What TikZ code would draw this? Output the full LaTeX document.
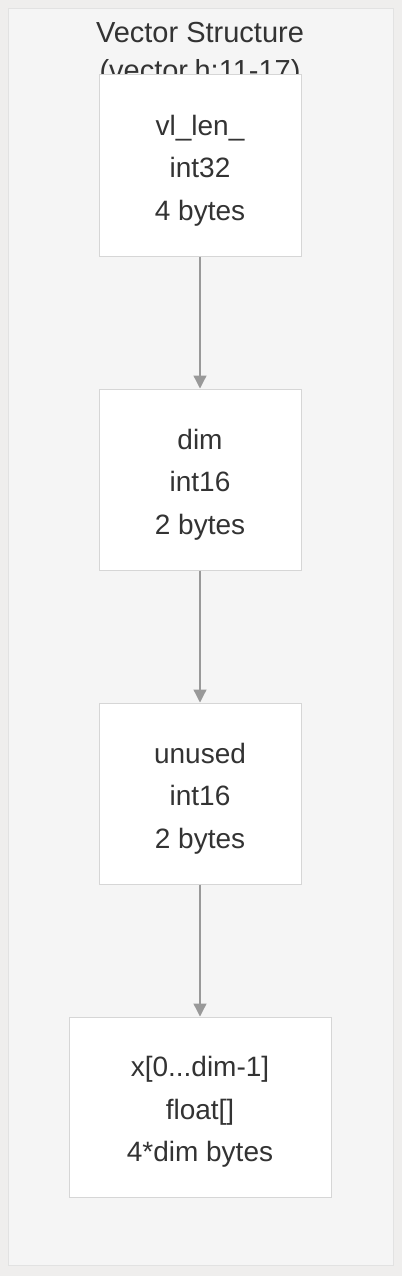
\documentclass[tikz,border=0pt]{standalone}
\usepackage{fontspec}
\setmainfont{Liberation Sans}
\usetikzlibrary{arrows.meta, positioning}
\definecolor{PageBg}{HTML}{EFEEED}
\definecolor{ClusterFill}{HTML}{F5F5F5}
\definecolor{ClusterLine}{HTML}{E2E2E2}
\definecolor{BoxLine}{HTML}{D6D6D6}
\definecolor{LinkGray}{HTML}{999999}
\definecolor{TextGray}{HTML}{333333}
\newcommand{\fieldgap}{\rule{0pt}{30pt}}

\begin{document}
\begin{tikzpicture}[x=1pt, y=-1pt,
    field/.style={draw=BoxLine, fill=white, line width=1pt,
                  minimum width=202pt, minimum height=181pt,
                  align=center, text=TextGray,
                  font=\fontsize{28}{42.5}\selectfont},
    link/.style={draw=LinkGray, line width=1.3pt,
                 -{Triangle[length=13pt, width=13pt]}}]
    % background and cluster
    \fill[PageBg] (0,0) rectangle (402,1276);
    \draw[fill=ClusterFill, draw=ClusterLine, line width=1pt] (8,9) rectangle (393,1265);
    \node[text=TextGray, align=center, font=\fontsize{29}{38}\selectfont]
      (title) at (200,54) {Vector Structure\\(vector.h:11-17)};

    % fields of the struct
    \node[field] (vllen) at (200,165.5) {\fieldgap vl\_len\_\\int32\\4 bytes};
    \node[field, below=132pt of vllen] (dim) {\fieldgap dim\\int16\\2 bytes};
    \node[field, below=132pt of dim] (unused) {\fieldgap unused\\int16\\2 bytes};
    \node[field, below=132pt of unused, minimum width=262pt, minimum height=180pt]
      (xdata) {\fieldgap x[0...dim-1]\\float[]\\4*dim bytes};

    \draw[link] (vllen) -- (dim);
    \draw[link] (dim) -- (unused);
    \draw[link] (unused) -- (xdata);
\end{tikzpicture}
\end{document}
